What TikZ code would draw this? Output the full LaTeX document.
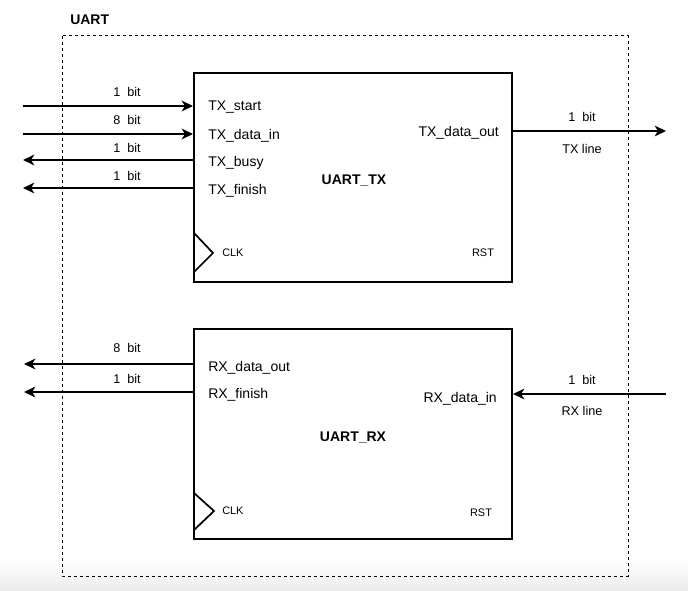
\documentclass[tikz,border=0pt]{standalone}
\usepackage{fontspec}
\setmainfont{Liberation Sans}
\usetikzlibrary{arrows.meta, positioning, calc}

\begin{document}
\begin{tikzpicture}[x=0.75pt, y=-0.75pt,
    block/.style={draw, line width=1.5pt, minimum width=238.5pt, minimum height=157pt, inner sep=0pt},
    port/.style={font=\fontsize{10.5}{12}\selectfont, inner sep=0pt, text depth=0pt},
    title/.style={font=\bfseries\fontsize{10.5}{12}\selectfont, inner sep=0pt, text depth=0pt},
    bits/.style={font=\fontsize{9.5}{11}\selectfont, inner sep=0pt, text depth=0pt},
    small/.style={font=\fontsize{8.2}{9}\selectfont, inner sep=0pt, text depth=0pt},
    wire/.style={line width=1.4pt, -{Stealth[length=8.5pt, width=8pt, inset=2.5pt]}}]
  \useasboundingbox (0,0) rectangle (688,591);
  \fill[top color=white, bottom color=black!8] (0,560) rectangle (688,591);

  % UART frame
  \draw[dash pattern=on 2.25pt off 2.25pt, line width=0.75pt] (62,36) rectangle (628,576);
  \node[title, anchor=west] (uart) at (70,20) {UART};

  % Transmitter
  \node[block] (tx) at (353,177.5) {};
  \node[title] (txname) at (354,180) {UART\_TX};

  \node[port, anchor=west] (txstart) at (208,106) {TX\_start};
  \node[port, anchor=west] (txdatain) at (208,134) {TX\_data\_in};
  \node[port, anchor=west] (txbusy) at (208,161) {TX\_busy};
  \node[port, anchor=west] (txfinish) at (208,189) {TX\_finish};
  \node[port, anchor=east] (txdataout) at (499,131) {TX\_data\_out};

  \coordinate (txstartsrc) at (23,106);
  \coordinate (txdatainsrc) at (23,134);
  \coordinate (txbusydst) at (23,160);
  \coordinate (txfinishdst) at (23,188);
  \coordinate (txline) at (666,131);

  \draw[wire] (txstartsrc) -- (tx.west |- txstart);
  \draw[wire] (txdatainsrc) -- (tx.west |- txdatain);
  \draw[wire] (tx.west |- txbusydst) -- (txbusydst);
  \draw[wire] (tx.west |- txfinishdst) -- (txfinishdst);
  \draw[wire] (tx.east |- txdataout) -- (txline);

  \node[bits] (txstartw) at (127,92) {1~~bit};
  \node[bits] (txdatainw) at (127,120) {8~~bit};
  \node[bits] (txbusyw) at (127,148) {1~~bit};
  \node[bits] (txfinishw) at (127,176) {1~~bit};
  \node[bits] (txlinew) at (582,117) {1~~bit};
  \node[bits] (txlinename) at (582,149) {TX line};

  \draw[line width=1.3pt] (194,233) -- (213,253) -- (194,272);
  \node[small, anchor=west] (txclk) at (222,253) {CLK};
  \node[small] (txrst) at (483,253) {RST};

  % Receiver
  \node[block] (rx) at (353,434) {};
  \node[title] (rxname) at (353,437) {UART\_RX};

  \node[port, anchor=west] (rxdataout) at (208,366) {RX\_data\_out};
  \node[port, anchor=west] (rxfinish) at (208,393) {RX\_finish};
  \node[port, anchor=east] (rxdatain) at (497,397) {RX\_data\_in};

  \coordinate (rxdataoutdst) at (24,364);
  \coordinate (rxfinishdst) at (24,392);
  \coordinate (rxline) at (666,394);

  \draw[wire] (rx.west |- rxdataoutdst) -- (rxdataoutdst);
  \draw[wire] (rx.west |- rxfinishdst) -- (rxfinishdst);
  \draw[wire] (rxline) -- (rx.east |- rxline);

  \node[bits] (rxdataoutw) at (127,348) {8~~bit};
  \node[bits] (rxfinishw) at (127,379) {1~~bit};
  \node[bits] (rxlinew) at (582,380) {1~~bit};
  \node[bits] (rxlinename) at (582,411) {RX line};

  \draw[line width=1.3pt] (194,493) -- (214,511) -- (194,530);
  \node[small, anchor=west] (rxclk) at (222,511) {CLK};
  \node[small] (rxrst) at (481,513) {RST};
\end{tikzpicture}
\end{document}
